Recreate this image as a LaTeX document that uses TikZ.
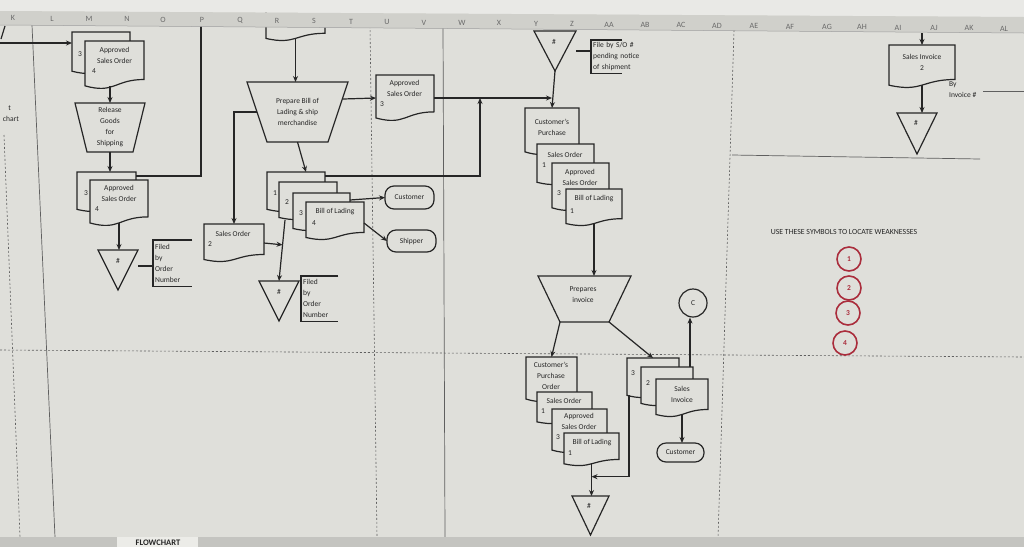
\documentclass[tikz,border=0pt]{standalone}
\usepackage{fontspec}
\setmainfont{Carlito}
\usetikzlibrary{arrows.meta,calc}
\definecolor{paper}{RGB}{223,223,218}
\definecolor{ink}{RGB}{38,38,38}
\definecolor{hdr}{RGB}{208,208,203}
\definecolor{topb}{RGB}{233,233,230}
\definecolor{gridc}{RGB}{95,95,95}
\definecolor{hdrtxt}{RGB}{105,105,105}
\definecolor{wred}{RGB}{170,45,60}
\definecolor{barc}{RGB}{196,196,192}
\definecolor{tabc}{RGB}{236,236,232}
\newcommand\txf{\fontsize{7.5}{11}\selectfont}
\makeatletter
\newdimen\shxa \newdimen\shya \newdimen\shxb \newdimen\shyb
\newdimen\shh \newdimen\shm \newdimen\shd
\newdimen\shyr \newdimen\shyc \newdimen\shyl
\def\manopinset{10}
\pgfdeclareshape{document}{
  \inheritsavedanchors[from=rectangle]
  \inheritanchorborder[from=rectangle]
  \inheritanchor[from=rectangle]{center}
  \inheritanchor[from=rectangle]{north}
  \inheritanchor[from=rectangle]{south}
  \inheritanchor[from=rectangle]{east}
  \inheritanchor[from=rectangle]{west}
  \inheritanchor[from=rectangle]{north east}
  \inheritanchor[from=rectangle]{north west}
  \inheritanchor[from=rectangle]{south east}
  \inheritanchor[from=rectangle]{south west}
  \anchor{wave}{%
    \southwest \shxa=\pgf@x \shya=\pgf@y
    \northeast \shxb=\pgf@x \shyb=\pgf@y
    \pgf@x=\shxa \advance\pgf@x by \shxb \pgf@x=0.5\pgf@x
    \shh=\shyb \advance\shh by -\shya
    \pgf@y=\shya \advance\pgf@y by 0.067\shh
  }
  \backgroundpath{%
    \southwest \shxa=\pgf@x \shya=\pgf@y
    \northeast \shxb=\pgf@x \shyb=\pgf@y
    \shh=\shyb \advance\shh by -\shya
    \shm=\shxa \advance\shm by \shxb \shm=0.5\shm
    \shyr=\shya \advance\shyr by 0.198\shh
    \shyc=\shya \advance\shyc by -0.1075\shh
    \shyl=\shya \advance\shyl by 0.066\shh
    \pgfpathmoveto{\pgfqpoint{\shxa}{\shyb}}
    \pgfpathlineto{\pgfqpoint{\shxb}{\shyb}}
    \pgfpathlineto{\pgfqpoint{\shxb}{\shyr}}
    \pgfpathcurveto{\pgfqpoint{\shm}{\shyr}}{\pgfqpoint{\shm}{\shyc}}{\pgfqpoint{\shxa}{\shyl}}
    \pgfpathclose
  }
}
\pgfdeclareshape{manop}{
  \inheritsavedanchors[from=rectangle]
  \inheritanchorborder[from=rectangle]
  \inheritanchor[from=rectangle]{center}
  \inheritanchor[from=rectangle]{north}
  \inheritanchor[from=rectangle]{south}
  \inheritanchor[from=rectangle]{east}
  \inheritanchor[from=rectangle]{west}
  \inheritanchor[from=rectangle]{north east}
  \inheritanchor[from=rectangle]{north west}
  \inheritanchor[from=rectangle]{south east}
  \inheritanchor[from=rectangle]{south west}
  \saveddimen{\mopin}{\pgfmathsetlength\pgf@x{\manopinset}}
  \anchor{bl}{\southwest \shd=\mopin \advance\pgf@x by \shd}
  \anchor{br}{\southwest \shya=\pgf@y \northeast \pgf@y=\shya \shd=\mopin \advance\pgf@x by -\shd}
  \backgroundpath{%
    \southwest \shxa=\pgf@x \shya=\pgf@y
    \northeast \shxb=\pgf@x \shyb=\pgf@y
    \shd=\mopin
    \pgfpathmoveto{\pgfqpoint{\shxa}{\shyb}}
    \pgfpathlineto{\pgfqpoint{\shxb}{\shyb}}
    \advance\shxb by -\shd
    \pgfpathlineto{\pgfqpoint{\shxb}{\shya}}
    \advance\shxa by \shd
    \pgfpathlineto{\pgfqpoint{\shxa}{\shya}}
    \pgfpathclose
  }
}
\pgfdeclareshape{filetri}{
  \inheritsavedanchors[from=rectangle]
  \inheritanchorborder[from=rectangle]
  \inheritanchor[from=rectangle]{center}
  \inheritanchor[from=rectangle]{north}
  \inheritanchor[from=rectangle]{south}
  \inheritanchor[from=rectangle]{east}
  \inheritanchor[from=rectangle]{west}
  \inheritanchor[from=rectangle]{north east}
  \inheritanchor[from=rectangle]{north west}
  \inheritanchor[from=rectangle]{south east}
  \inheritanchor[from=rectangle]{south west}
  \backgroundpath{%
    \southwest \shxa=\pgf@x \shya=\pgf@y
    \northeast \shxb=\pgf@x \shyb=\pgf@y
    \shm=\shxa \advance\shm by \shxb \shm=0.5\shm
    \pgfpathmoveto{\pgfqpoint{\shxa}{\shyb}}
    \pgfpathlineto{\pgfqpoint{\shxb}{\shyb}}
    \pgfpathlineto{\pgfqpoint{\shm}{\shya}}
    \pgfpathclose
  }
}
\makeatother
\tikzset{manop inset/.code={\def\manopinset{#1}}}
\begin{document}
\begin{tikzpicture}[x=1pt,y=-1pt,
  ln/.style={draw=ink, line width=1.2pt},
  arr/.style={draw=ink, line width=1.2pt, -{Stealth[length=6pt,width=5pt]}},
  docu/.style={shape=document, draw=ink, fill=paper, line width=1.2pt, inner sep=0pt, outer sep=0pt},
  mop/.style={shape=manop, draw=ink, fill=paper, line width=1.2pt, inner sep=0pt, outer sep=0pt, align=center, font=\txf, text=ink},
  ftri/.style={shape=filetri, draw=ink, fill=paper, line width=1.2pt, inner sep=0pt, outer sep=0pt},
  term/.style={rectangle, rounded corners=9pt, draw=ink, fill=paper, line width=1.2pt, inner sep=0pt, outer sep=0pt, font=\txf, text=ink},
  tx/.style={font=\txf, text=ink, inner sep=0pt, align=center},
  ann/.style={font=\txf, text=ink, anchor=north west, align=left, inner xsep=2pt, inner ysep=0pt},
  gsolid/.style={draw=gridc, line width=0.7pt},
  gdash/.style={draw=gridc, line width=0.6pt, dash pattern=on 2pt off 2pt},
  wc/.style={circle, draw=wred, line width=1.6pt, minimum size=24pt, inner sep=0pt, text=wred, font=\fontsize{7.5}{8}\selectfont\bfseries},
  hl/.style={font=\fontsize{8}{9}\selectfont, text=hdrtxt, inner sep=0pt}
]
\useasboundingbox (0,0) rectangle (1024,547);
\clip (0,0) rectangle (1024,547);
\fill[paper] (0,0) rectangle (1024,547);

% sheet grid
\draw[gsolid] (32,25) -- (55,537);
\draw[gsolid] (443,25) -- (445,537);
\draw[gdash] (370,26) -- (377,537);
\draw[gdash] (734,30) -- (718,537);
\draw[gdash] (4,135) -- (20,537);
\draw[gdash] (0,350) -- (1024,357);
\draw[gsolid] (732,155) -- (980,159);
\draw[gsolid] (983,91) -- (1024,91);

\node[tx, anchor=east] (lt1) at (11,108) {t};
\node[tx, anchor=east] (lt2) at (19,119) {chart};
\draw[ln] (5,26) -- (1,39);

% ---------- left column
\coordinate (lf) at (0,43);
\node[docu, minimum width=58, minimum height=42] (L1b) at (101,53) {};
\node[docu, minimum width=59, minimum height=48] (L1a) at (114.5,65) {};
\node[tx] (L1bn) at (80,54) {3};
\node[tx] (L1at) at (114.5,55.5) {Approved\\Sales Order};
\node[tx] (L1an) at (94,71) {4};
\draw[arr] (lf) -- ([yshift=-11pt]L1b.north west);

\node[mop, manop inset=12, minimum width=70, minimum height=49] (rel) at (110,127.5) {Release\\Goods\\for\\Shipping};
\draw[arr] (L1a.wave -| rel.north) -- (rel.north);

\node[docu, minimum width=59, minimum height=40] (L2b) at (106.5,192) {};
\node[docu, minimum width=58, minimum height=46] (L2a) at (119,203) {};
\node[tx] (L2bn) at (86,193) {3};
\node[tx] (L2at) at (119,193.5) {Approved\\Sales Order};
\node[tx] (L2an) at (97,209) {4};
\draw[arr] (rel.south) -- (rel.south |- L2b.north);
\coordinate (topP) at (201,25);
\draw[ln] ([yshift=-4pt]L2b.north east) -| (topP);

\node[ftri, minimum width=40, minimum height=40] (T1) at (118,270) {};
\node[tx] (T1h) at (118,261) {\#};
\draw[arr] (L2a.wave) -- (L2a.wave |- T1.north);
\node[ann, text width=35, minimum height=46] (A1) at (153,240) {Filed\\by\\Order\\Number};
\draw[ln] (A1.north east) -- (A1.north west) -- (A1.south west) -- (A1.south east);
\draw[ln] ([yshift=4pt]T1.east) -- ([yshift=4pt]T1.east -| A1.west);

% ---------- middle column
\node[docu, minimum width=59, minimum height=39] (TD) at (295.5,21.5) {};
\node[mop, manop inset=20, minimum width=101, minimum height=60] (PB) at (297.5,112) {Prepare Bill of\\Lading \& ship\\merchandise};
\draw[arr] (TD.wave) -- (TD.wave |- PB.north);

\node[docu, minimum width=58, minimum height=46] (AS3) at (405,98) {};
\node[tx] (AS3t) at (404.5,88.5) {Approved\\Sales Order};
\node[tx] (AS3n) at (382,104) {3};
\draw[arr] ([xshift=-5pt,yshift=13pt]PB.east) -- (AS3.west);

\node[docu, minimum width=60, minimum height=38] (SO2) at (234,243) {};
\node[tx] (SO2t) at (233,234) {Sales Order};
\node[tx] (SO2n) at (210,244) {2};
\draw[arr] ([xshift=10pt]PB.west) -| (SO2.north);

\node[docu, minimum width=58, minimum height=40] (B1) at (296,192) {};
\node[docu, minimum width=58, minimum height=38] (B2) at (308,201) {};
\node[docu, minimum width=57, minimum height=38] (B3) at (321.5,212) {};
\node[docu, minimum width=58, minimum height=38] (B4) at (335,221) {};
\node[tx] (B1n) at (275,193) {1};
\node[tx] (B2n) at (287,202) {2};
\node[tx] (B3n) at (301,213) {3};
\node[tx] (B4t) at (335,212) {Bill of Lading};
\node[tx] (B4n) at (314,223) {4};
\draw[arr] (PB.south) -- ([xshift=10pt]B1.north);
\coordinate (jA) at (480,98);
\draw[arr] ([yshift=-4pt]B1.north east) -| (jA);

\node[term, minimum width=49, minimum height=23] (CuA) at (409.5,197.5) {Customer};
\node[term, minimum width=49, minimum height=22] (Sh) at (411.5,241) {Shipper};
\draw[arr] ([yshift=-7pt]B3.north east) -- (CuA.west);
\draw[arr] ([yshift=-21pt]B4.north east) -- (Sh.west);

\path ([xshift=6pt]B2.south west) coordinate (b2s);
\node[ftri, minimum width=40, minimum height=40] (T2) at (279,301) {};
\node[tx] (T2h) at (279,292) {\#};
\draw[arr] (b2s) -- (T2.north);
\draw[arr] (SO2.east) -- ($(b2s)!(SO2.east)!(T2.north)$);
\node[ann, text width=33, minimum height=45] (A2) at (301,276) {Filed\\by\\Order\\Number};
\draw[ln] (A2.north east) -- (A2.north west) -- (A2.south west) -- (A2.south east);

% ---------- right column
\node[ftri, minimum width=42, minimum height=40] (T3) at (555,51) {};
\node[tx] (T3h) at (554,42) {\#};
\node[ann, text width=56, minimum height=33] (A3) at (591,40) {File by S/O \#\\pending notice\\of shipment};
\draw[ln] ([xshift=31pt]A3.north west) -- (A3.north west) -- (A3.south west) -- ([xshift=31pt]A3.south west);
\draw[ln] (T3.east) -- (T3.east -| A3.west);

\node[docu, minimum width=54, minimum height=47] (CPa) at (552,131.5) {};
\node[docu, minimum width=57, minimum height=41] (CPb) at (565.5,164.5) {};
\node[docu, minimum width=57, minimum height=48] (CPc) at (580.5,187) {};
\node[docu, minimum width=56, minimum height=37] (CPd) at (594,207.5) {};
\node[tx] (CPat) at (552,127.5) {Customer's\\Purchase};
\node[tx] (CPbt) at (565,155) {Sales Order};
\node[tx] (CPbn) at (544,165) {1};
\node[tx] (CPct) at (580,177.5) {Approved\\Sales Order};
\node[tx] (CPcn) at (559,193) {3};
\node[tx] (CPdt) at (594,199) {Bill of Lading};
\node[tx] (CPdn) at (572,211) {1};
\draw[arr] (AS3.east) -- (AS3.east -| CPa.north);
\draw[arr] (T3.south) -- (CPa.north);

\node[mop, manop inset=22, minimum width=93, minimum height=46] (PI) at (584.5,299) {};
\node[tx] (PIt) at (583,294.5) {Prepares\\invoice};
\draw[arr] (CPd.wave) -- (CPd.wave |- PI.north);

\node[docu, minimum width=51, minimum height=45] (BPa) at (551.5,379.5) {};
\node[docu, minimum width=55, minimum height=32] (BPb) at (564.5,408) {};
\node[docu, minimum width=55, minimum height=44] (BPc) at (579.5,431) {};
\node[docu, minimum width=55, minimum height=33] (BPd) at (591.5,449.5) {};
\node[tx] (BPat) at (551,376) {Customer's\\Purchase\\Order};
\node[tx] (BPbt) at (564,401) {Sales Order};
\node[tx] (BPbn) at (543,411) {1};
\node[tx] (BPct) at (579,421) {Approved\\Sales Order};
\node[tx] (BPcn) at (558,437) {3};
\node[tx] (BPdt) at (592,443) {Bill of Lading};
\node[tx] (BPdn) at (570,453) {1};
\node[ftri, minimum width=37, minimum height=39] (T4) at (590.5,515.5) {};
\node[tx] (T4h) at (589,506) {\#};
\draw[arr] (PI.bl) -- (BPa.north);
\draw[arr] (BPd.wave) -- (BPd.wave |- T4.north);

\node[docu, minimum width=52, minimum height=40] (R3) at (653,378) {};
\node[docu, minimum width=52, minimum height=39] (R2) at (667,386.5) {};
\node[docu, minimum width=52, minimum height=38] (RSI) at (682,398) {};
\node[tx] (R3n) at (633,373) {3};
\node[tx] (R2n) at (648,383) {2};
\node[tx] (RSIt) at (682,394.5) {Sales\\Invoice};
\draw[arr] (PI.br) -- (R3.north);
\path ([xshift=2pt,yshift=3pt]R3.south west) coordinate (r3s);
\path ($(BPd.wave)!0.4!(BPd.wave |- T4.north)$) coordinate (jC);
\draw[arr] (r3s) |- (jC);

\node[circle, draw=ink, fill=paper, line width=1.2pt, minimum size=28pt, inner sep=0pt, font=\txf, text=ink] (Cc) at (693,303) {C};
\draw[arr] ([xshift=-3pt]R2.north east) -- ([xshift=-3pt]R2.north east |- Cc.south);

\node[term, minimum width=47, minimum height=19] (CuB) at (680.5,452.5) {Customer};
\draw[arr] (RSI.wave) -- (RSI.wave |- CuB.north);

% ---------- far right
\coordinate (topSI) at (922,33);
\node[docu, minimum width=66, minimum height=43] (SI2) at (922,66.5) {};
\node[tx] (SI2t) at (922,62.5) {Sales Invoice\\2};
\draw[arr] (topSI) -- (SI2.north);
\node[ftri, minimum width=40, minimum height=41] (T5) at (917,133.5) {};
\node[tx] (T5h) at (916,123) {\#};
\draw[arr] (SI2.wave) -- (SI2.wave |- T5.north);
\node[ann] (BI) at (947,81) {By\\Invoice \#};

\node[font=\fontsize{7.8}{9}\selectfont, text=ink, inner sep=0pt] (wk) at (844,232) {USE THESE SYMBOLS TO LOCATE WEAKNESSES};
\node[wc] (w1) at (849,259) {1};
\node[wc] (w2) at (849,288) {2};
\node[wc] (w3) at (848,313) {3};
\node[wc] (w4) at (845,343) {4};

% ---------- header and bottom bar
\fill[topb] (0,0) -- (1024,0) -- (1024,17) -- (0,11) -- cycle;
\fill[hdr] (0,11) -- (1024,17) -- (1024,33) -- (0,25) -- cycle;
\draw[draw=gridc!60, line width=0.5pt] (0,25) -- (1024,33);
\foreach \l/\x in {K/13,L/52,M/89,N/127,O/163,P/202,Q/240,R/277,S/314,T/351,U/387,V/424,W/462,X/499,Y/536,Z/572,AA/609,AB/645,AC/681,AD/717,AE/754,AF/790,AG/827,AH/862,AI/898,AJ/934,AK/969,AL/1004}
  \node[hl] (h\l) at (\x,{18+11*\x/1024}) {\l};

\fill[barc] (0,537) rectangle (1024,547);
\fill[tabc] (117,537) rectangle (198,547);
\node[font=\fontsize{8.5}{9}\selectfont\bfseries, text=ink, inner sep=0pt, anchor=base] (tab) at (158,545.5) {FLOWCHART};
\end{tikzpicture}
\end{document}
